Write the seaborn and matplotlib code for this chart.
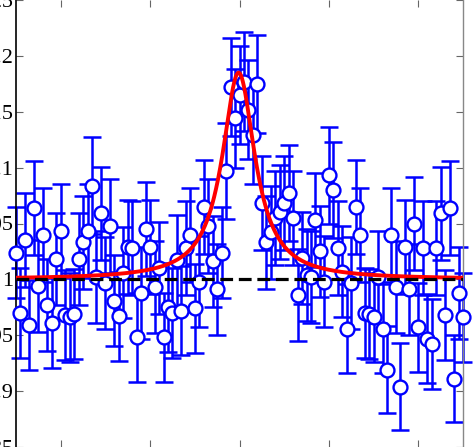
import numpy as np
import pandas as pd
import matplotlib
matplotlib.use("Agg")
import matplotlib.pyplot as plt
import seaborn as sns

# ---- data ----
x_values = [-2.50, -2.45, -2.40, -2.35, -2.30, -2.25, -2.20, -2.15, -2.10, -2.05,
            -2.00, -1.95, -1.90, -1.85, -1.80, -1.75, -1.70, -1.65, -1.60, -1.55,
            -1.50, -1.45, -1.40, -1.35, -1.30, -1.25, -1.20, -1.15, -1.10, -1.05,
            -1.00, -0.95, -0.90, -0.85, -0.80, -0.75, -0.70, -0.65, -0.60, -0.55,
            -0.50, -0.45, -0.40, -0.35, -0.30, -0.25, -0.20, -0.15, -0.10, -0.05,
            0.00, 0.05, 0.10, 0.15, 0.20, 0.25, 0.30, 0.35, 0.40, 0.45,
            0.50, 0.55, 0.60, 0.65, 0.70, 0.75, 0.80, 0.85, 0.90, 0.95,
            1.00, 1.05, 1.10, 1.15, 1.20, 1.25, 1.30, 1.35, 1.40, 1.45,
            1.50, 1.55, 1.60, 1.65, 1.70, 1.75, 1.80, 1.85, 1.90, 1.95,
            2.00, 2.05, 2.10, 2.15, 2.20, 2.25, 2.30, 2.35, 2.40, 2.45,
            2.50]

y_values = [1.024, 0.970, 1.035, 0.959, 1.064, 0.994, 1.040, 0.977, 0.961, 1.018,
            1.043, 0.968, 0.966, 0.969, 1.018, 1.033, 1.043, 1.084, 1.002, 1.059,
            0.997, 1.048, 0.981, 0.967, 1.006, 1.029, 1.028, 0.948, 0.988, 1.045,
            1.029, 0.993, 1.010, 0.948, 0.975, 0.970, 1.017, 0.972, 1.028, 1.040,
            0.974, 0.998, 1.065, 1.048, 1.016, 0.991, 1.024, 1.097, 1.172, 1.144,
            1.165, 1.177, 1.152, 1.129, 1.175, 1.068, 1.033, 1.042, 1.055, 1.060,
            1.068, 1.077, 1.055, 0.986, 1.019, 1.004, 1.002, 1.053, 1.025, 0.998,
            1.093, 1.080, 1.028, 1.007, 0.956, 0.997, 1.065, 1.040, 0.970, 0.969,
            0.966, 1.002, 0.956, 0.919, 1.040, 0.993, 0.904, 1.029, 0.991, 1.050,
            0.957, 1.028, 0.947, 0.942, 1.028, 1.059, 0.968, 1.064, 0.911, 0.988,
            0.966]

y_errors = [0.041, 0.040, 0.042, 0.040, 0.042, 0.041, 0.042, 0.041, 0.040, 0.041,
            0.042, 0.040, 0.040, 0.040, 0.041, 0.042, 0.042, 0.043, 0.041, 0.042,
            0.041, 0.042, 0.041, 0.040, 0.041, 0.042, 0.042, 0.040, 0.041, 0.042,
            0.042, 0.041, 0.041, 0.040, 0.040, 0.040, 0.041, 0.040, 0.042, 0.042,
            0.040, 0.041, 0.042, 0.042, 0.041, 0.041, 0.041, 0.043, 0.044, 0.044,
            0.044, 0.044, 0.044, 0.044, 0.044, 0.042, 0.042, 0.042, 0.042, 0.042,
            0.042, 0.043, 0.042, 0.041, 0.041, 0.041, 0.041, 0.042, 0.041, 0.041,
            0.043, 0.043, 0.042, 0.041, 0.040, 0.041, 0.042, 0.042, 0.040, 0.040,
            0.040, 0.041, 0.040, 0.039, 0.042, 0.041, 0.039, 0.042, 0.041, 0.042,
            0.040, 0.042, 0.040, 0.040, 0.042, 0.042, 0.040, 0.042, 0.039, 0.041,
            0.040]

# Lorentzian fit parameters
baseline = 1.0
fit_center = -0.01
fit_hwhm = 0.223
fit_amplitude = 0.185

x_limits = (-2.5, 2.5)
y_limits = (0.85, 1.25)
x_ticks = [-2, -1, 0, 1, 2]
y_ticks = [0.85, 0.9, 0.95, 1.0, 1.05, 1.1, 1.15, 1.2, 1.25]
y_tick_labels = ["0.85", "0.9", "0.95", "1", "1.05", "1.1", "1.15", "1.2", "1.25"]

# ---- style ----
sns.set_style("white")
plt.rcParams["font.family"] = ["Liberation Serif", "DejaVu Serif"]

fig = plt.figure(figsize=(4.74, 4.47), dpi=100)
ax = fig.add_axes([16 / 474, 0.0, 447 / 474, 1.0])

df = pd.DataFrame({"x": x_values, "y": y_values, "err": y_errors})

ax.errorbar(df["x"], df["y"], yerr=df["err"], fmt="none", ecolor="#0000ff",
            elinewidth=1.8, capsize=6.3, capthick=1.8, clip_on=False, zorder=2)
sns.scatterplot(data=df, x="x", y="y", marker="o", s=100, facecolor="white",
                edgecolor="#0000ff", linewidth=1.7, clip_on=False, zorder=3,
                legend=False, ax=ax)

xx = np.linspace(x_limits[0], x_limits[1], 1201)
yy = baseline + fit_amplitude / (1.0 + ((xx - fit_center) / fit_hwhm) ** 2)
fit_df = pd.DataFrame({"x": xx, "y": yy})
sns.lineplot(data=fit_df, x="x", y="y", color="#ff0000", linewidth=2.8,
             estimator=None, sort=False, zorder=4, ax=ax)

ax.plot(list(x_limits), [baseline, baseline], color="black", linewidth=2.3,
        linestyle=(0, (4, 1.8)), zorder=5)

ax.set_xlim(*x_limits)
ax.set_ylim(*y_limits)
ax.set_xticks(x_ticks)
ax.set_yticks(y_ticks)
ax.set_yticklabels(y_tick_labels)
ax.set_xlabel("")
ax.set_ylabel("")

ax.tick_params(axis="both", direction="in", length=5, width=0.8,
               color="#666666", labelcolor="black")
ax.tick_params(axis="x", top=True, bottom=True, labelbottom=False)
ax.tick_params(axis="y", left=True, right=True, labelsize=16, pad=2)

ax.spines["top"].set_visible(False)
ax.spines["bottom"].set_visible(False)
ax.spines["left"].set_color("black")
ax.spines["left"].set_linewidth(1.2)
ax.spines["right"].set_color("#888888")
ax.spines["right"].set_linewidth(1.0)

fig.savefig("out.png", dpi=100)
